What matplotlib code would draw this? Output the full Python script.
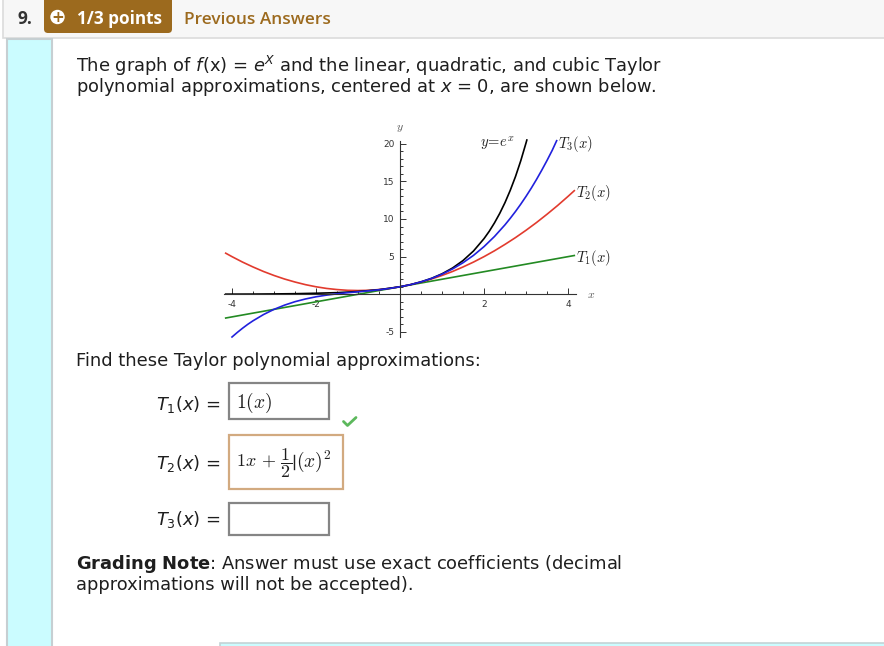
import numpy as np
import matplotlib
matplotlib.use("Agg")
import matplotlib.pyplot as plt
from matplotlib.patches import Rectangle, FancyBboxPatch, Circle
from matplotlib.ticker import FixedLocator

# ----- data -----
exp_x = [-4.15, -3.5, -3.0, -2.5, -2.0, -1.5, -1.0, -0.5, 0.0, 0.25, 0.5, 0.75, 1.0,
         1.25, 1.5, 1.75, 2.0, 2.125, 2.25, 2.375, 2.5, 2.625, 2.75, 2.875, 3.0, 3.02]
exp_y = [0.02, 0.03, 0.05, 0.08, 0.14, 0.22, 0.37, 0.61, 1.0, 1.28, 1.65, 2.12, 2.72,
         3.49, 4.48, 5.75, 7.39, 8.37, 9.49, 10.75, 12.18, 13.81, 15.64, 17.73, 20.09, 20.49]

t1_x = [-4.15, 4.15]
t1_y = [-3.15, 5.15]

t2_x = [-4.15, -4.0, -3.75, -3.5, -3.25, -3.0, -2.75, -2.5, -2.25, -2.0, -1.75,
        -1.5, -1.25, -1.0, -0.75, -0.5, -0.25, 0.0, 0.25, 0.5, 0.75, 1.0, 1.25,
        1.5, 1.75, 2.0, 2.25, 2.5, 2.75, 3.0, 3.25, 3.5, 3.75, 4.0, 4.15]
t2_y = [5.46, 5.0, 4.28, 3.63, 3.03, 2.5, 2.03, 1.63, 1.28, 1.0, 0.78,
        0.63, 0.53, 0.5, 0.53, 0.63, 0.78, 1.0, 1.28, 1.63, 2.03, 2.5, 3.03,
        3.63, 4.28, 5.0, 5.78, 6.63, 7.53, 8.5, 9.53, 10.63, 11.78, 13.0, 13.76]

t3_x = [-4.0, -3.875, -3.75, -3.625, -3.5, -3.25, -3.0, -2.75, -2.5, -2.25, -2.0,
        -1.75, -1.5, -1.25, -1.0, -0.75, -0.5, -0.25, 0.0, 0.25, 0.5, 0.75, 1.0,
        1.25, 1.5, 1.75, 2.0, 2.25, 2.5, 2.625, 2.75, 2.875, 3.0, 3.125, 3.25,
        3.375, 3.5, 3.625, 3.73]
t3_y = [-5.67, -5.07, -4.51, -3.99, -3.52, -2.69, -2.0, -1.44, -0.98, -0.62, -0.33,
        -0.11, 0.06, 0.21, 0.33, 0.46, 0.6, 0.78, 1.0, 1.28, 1.65, 2.1, 2.67,
        3.36, 4.19, 5.17, 6.33, 7.68, 9.23, 10.09, 11.0, 11.97, 13.0, 14.09, 15.25,
        16.48, 17.77, 19.13, 20.4]

x_major = [-4, -2, 2, 4]
x_minor = [-4, -3.5, -3, -2.5, -2, -1.5, -1, -0.5, 0.5, 1, 1.5, 2, 2.5, 3, 3.5, 4]
y_major = [-5, 5, 10, 15, 20]
y_minor = [-5, -4, -3, -2, -1, 1, 2, 3, 4, 5, 6, 7, 8, 9, 10, 11, 12, 13, 14, 15,
           16, 17, 18, 19, 20]

BROWN = "#9c6a1e"
TXT = "#1e1e1e"
CYAN = "#cbfcff"

W, H = 884, 646
fig = plt.figure(figsize=(W / 100, H / 100), dpi=100)

# ----- page layer, pixel coords -----
pg = fig.add_axes([0, 0, 1, 1])
pg.set_xlim(0, W)
pg.set_ylim(H, 0)
pg.axis("off")

# header
pg.add_patch(Rectangle((3, -2), W, 40, facecolor="#f7f7f7", edgecolor="#dcdcdc", lw=1.2))
pg.text(18, 23.5, "9.", fontsize=12.5, fontweight="bold", color="#333333", family="Open Sans")
pg.add_patch(FancyBboxPatch((44, -10), 128, 43, boxstyle="round,pad=0,rounding_size=4",
                            facecolor=BROWN, edgecolor="none"))
pg.add_patch(Circle((57.5, 17), 7.2, facecolor="white", edgecolor="none"))
pg.text(57.5, 17.5, "+", fontsize=11, fontweight="bold", color=BROWN,
        ha="center", va="center", family="DejaVu Sans")
pg.text(77, 23.5, "1/3 points", fontsize=12.3, fontweight="bold", color="white", family="Open Sans")
pg.text(184, 23.5, "Previous Answers", fontsize=12.4, fontweight="semibold", color=BROWN,
        family="Open Sans")

# left strip + bottom box
pg.add_patch(Rectangle((6.5, 38.5), 45.5, 620, facecolor=CYAN, edgecolor="#c6cfd2", lw=1.5))
pg.add_patch(Rectangle((220, 642.5), 700, 20, facecolor=CYAN, edgecolor="#c3d3d6", lw=1.2))

# body text
body = dict(fontsize=12.9, color=TXT, family="DejaVu Sans", math_fontfamily="dejavusans")
pg.text(76, 72, r"The graph of $f$(x) = $e^{X}$ and the linear, quadratic, and cubic Taylor", **body)
pg.text(76, 92, r"polynomial approximations, centered at $x$ = 0, are shown below.", **body)
pg.text(76, 366, "Find these Taylor polynomial approximations:", **body)

for k, base in zip([1, 2, 3], [410, 469, 525]):
    pg.text(221, base, r"$T_{%d}(x)$ =" % k, ha="right", **body)

pg.add_patch(Rectangle((228.5, 383), 100.5, 36, facecolor="white", edgecolor="#858585", lw=1.6))
pg.add_patch(Rectangle((229, 435), 114, 53.5, facecolor="white", edgecolor="#d2aa80", lw=1.6))
pg.add_patch(Rectangle((228.5, 503), 100.5, 32, facecolor="white", edgecolor="#858585", lw=1.6))

box = dict(color=TXT, math_fontfamily="cm", fontsize=14)
pg.text(236, 408, r"$1(x)$", **box)
frac = pg.text(236, 467, r"$1x\,+\,\dfrac{1}{2}$", color=TXT, math_fontfamily="cm", fontsize=13)

# cursor + rest of the entry placed right after the fraction
fig.canvas.draw()
bb = frac.get_window_extent()
inv = pg.transData.inverted()
cx = inv.transform((bb.x1, 0))[0] + 2
pg.plot([cx, cx], [455, 469], color="#222222", lw=1.0)
pg.text(cx + 2, 467, r"$(x)^2$", **box)

# check mark
pg.plot([343.5, 347.5, 356], [421.5, 425.5, 417.5], color="#5cb85c", lw=2.0,
        solid_capstyle="round", solid_joinstyle="round")

pg.text(76, 569, r"$\mathbf{Grading\ Note}$: Answer must use exact coefficients (decimal", **body)
pg.text(76, 590, "approximations will not be accepted).", **body)

# ----- chart -----
x0, y0 = 400.0, 294.3
sx, sy = 42.0, 7.53
xl, xr, yb, yt = -4.6, 4.6, -7.0, 22.0
left = (x0 + sx * xl) / W
right = (x0 + sx * xr) / W
top = 1 - (y0 - sy * yt) / H
bottom = 1 - (y0 - sy * yb) / H
ax = fig.add_axes([left, bottom, right - left, top - bottom])
ax.patch.set_alpha(0)
ax.set_xlim(xl, xr)
ax.set_ylim(yb, yt)

for s in ["top", "right"]:
    ax.spines[s].set_visible(False)
ax.spines["left"].set_position(("data", 0))
ax.spines["bottom"].set_position(("data", 0))
ax.spines["left"].set_bounds(-5.7, 20.3)
ax.spines["bottom"].set_bounds(-4.2, 4.2)
for s in ["left", "bottom"]:
    ax.spines[s].set_color("#333333")
    ax.spines[s].set_linewidth(0.8)

ax.xaxis.set_major_locator(FixedLocator(x_major))
ax.xaxis.set_minor_locator(FixedLocator(x_minor))
ax.yaxis.set_major_locator(FixedLocator(y_major))
ax.yaxis.set_minor_locator(FixedLocator(y_minor))
ax.set_xticklabels([str(v) for v in x_major])
ax.set_yticklabels([str(v) for v in y_major])
ax.tick_params(which="both", direction="in", color="#333333", width=0.7,
               labelsize=6.5, labelcolor="#333333")
ax.tick_params(which="major", length=4)
ax.tick_params(which="minor", length=2.2)
ax.tick_params(axis="x", pad=4)
ax.tick_params(axis="y", pad=4)

ax.plot(t1_x, t1_y, color="#238a23", lw=1.2)
ax.plot(t2_x, t2_y, color="#e23b2e", lw=1.2)
ax.plot(exp_x, exp_y, color="black", lw=1.2)
ax.plot(t3_x, t3_y, color="#2121dd", lw=1.2)

cm = dict(math_fontfamily="cm", color="#222222")
ax.text(2.31, 20.1, r"$y\!=\!e^{x}$", fontsize=10.5, ha="center", va="center", **cm)
ax.text(3.75, 20.0, r"$T_3(x)$", fontsize=10.5, va="center", **cm)
ax.text(4.2, 13.4, r"$T_2(x)$", fontsize=10.5, va="center", **cm)
ax.text(4.2, 4.85, r"$T_1(x)$", fontsize=10.5, va="center", **cm)
ax.text(4.45, 0.0, r"$x$", fontsize=8.5, va="center", color="#555555", math_fontfamily="cm")
ax.text(0.0, 22.2, r"$y$", fontsize=8.5, ha="center", va="center", color="#555555",
        math_fontfamily="cm")

fig.savefig("out.png", dpi=100)
